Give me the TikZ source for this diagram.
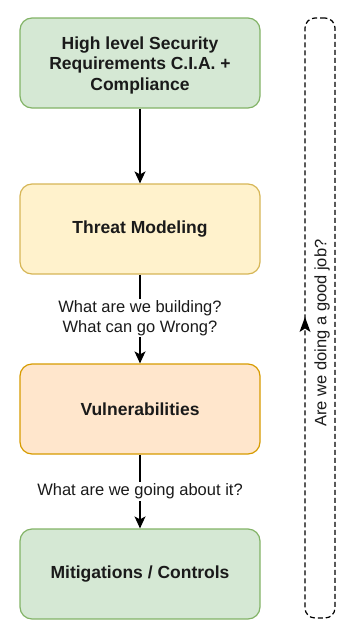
\documentclass[tikz,border=0pt]{standalone}
\usepackage{fontspec}
\setmainfont{Liberation Sans}
\usetikzlibrary{arrows.meta}
\definecolor{gfill}{HTML}{D5E8D4}
\definecolor{gline}{HTML}{82B366}
\definecolor{yfill}{HTML}{FFF2CC}
\definecolor{yline}{HTML}{D6B656}
\definecolor{ofill}{HTML}{FFE6CC}
\definecolor{oline}{HTML}{D79B00}
\definecolor{txt}{HTML}{1A1A1A}
\tikzset{
  box/.style={draw, rounded corners=12pt, line width=1.2pt, minimum width=240pt, minimum height=90pt,
    inner sep=0pt, align=center, font=\fontsize{17.5pt}{20.5pt}\selectfont\bfseries, text=txt},
  flow/.style={draw=black, line width=1.3pt, -{Stealth[length=12pt,width=11pt,inset=3pt]}},
  lbl/.style={fill=white, inner sep=1.5pt, align=center, font=\fontsize{16.5pt}{19.5pt}\selectfont, text=txt},
}
\begin{document}
\begin{tikzpicture}[x=1pt,y=-1pt]
\useasboundingbox (0,0) rectangle (349,637);
\node[box, fill=gfill, draw=gline] (req) at (140,63) {};
\node[font=\fontsize{17.5pt}{20.5pt}\selectfont\bfseries, text=txt, align=center] (reqt) at (req.center) [yshift=-2pt] {High level Security\\Requirements C.I.A. +\\Compliance};
\node[box, fill=yfill, draw=yline] (tm) at (140,229) {Threat Modeling};
\node[box, fill=ofill, draw=oline] (vul) at (140,409) {Vulnerabilities};
\node[box, fill=gfill, draw=gline] (mit) at (140,574) {Mitigations / Controls};
\draw[flow] (req) -- (tm);
\draw[flow] (tm) -- node[lbl, pos=0.49] {What are we building?\\What can go Wrong?} (vul);
\draw[flow] (vul) -- node[lbl, pos=0.5] {What are we going about it?} (mit);
\node[draw=black, dashed, dash pattern=on 5pt off 3pt, line width=1.2pt, rounded corners=10pt,
  minimum width=30pt, minimum height=600pt, inner sep=0pt] (loop) at (320,318) {};
\coordinate (atip) at (305,317);
\fill[black] (atip) -- ++(5.5,15) -- ++(-5.5,-3.5) -- ++(-5.5,3.5) -- cycle;
\node[rotate=90, font=\fontsize{16.5pt}{19.5pt}\selectfont, text=txt] (q) at (322,333) {Are we doing a good job?};
\end{tikzpicture}
\end{document}
